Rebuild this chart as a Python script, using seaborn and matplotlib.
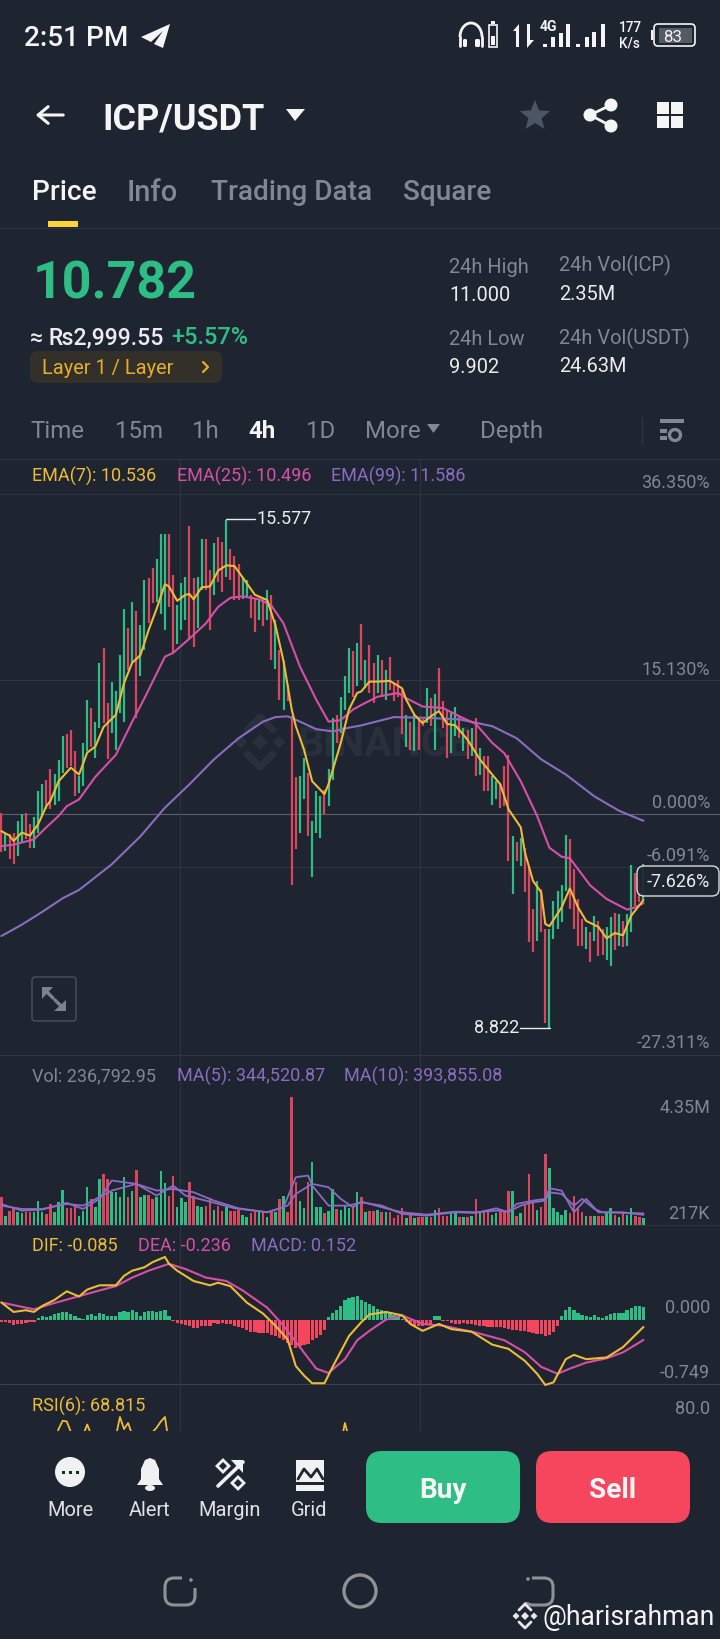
import numpy as np
import pandas as pd
import matplotlib
matplotlib.use("Agg")
import matplotlib.pyplot as plt
import seaborn as sns
from matplotlib.patches import FancyBboxPatch, Circle, Polygon, Rectangle, Arc, Ellipse

BG = "#1E2430"
GRID = "#2E3541"
GREEN = "#2EBD85"
RED = "#F6465D"
CANDLE_RED = "#D9475F"
YELLOW = "#EDBB3A"
MAGENTA = "#D650A8"
PURPLE = "#8A6CC0"
GREY = "#7F8894"
WHITE = "#EAECEF"

# candles, one letter per 4h bar (G up, R down)
directions = list("RGRRGGRRGG" "GRRGGGRRRG" "GGRGGRRGGG" "GRGRGGRRGG" "GRRGGGRRGG"
                  "RRGRRGRRRG" "GRRGRGRGRG" "RRRGGRGGGR" "GGRGGGRGRG" "RRGRGRRRRG"
                  "RGRRGRGRRR" "GGRGRGRGRR" "GGRRRGRGRR" "RGRRGGGGGR" "RRRGRGRRGG"
                  "RGRGGRRG")
highs = [11.69, 11.43, 11.41, 11.43, 11.58, 11.68, 11.69, 11.54, 11.63, 11.98,
         12.07, 12.13, 12.27, 12.20, 12.39, 12.71, 12.73, 12.79, 12.51, 12.18,
         12.62, 13.19, 13.08, 12.90, 13.68, 13.88, 13.15, 13.43, 13.30, 13.78,
         14.39, 14.14, 14.49, 14.37, 14.18, 14.77, 14.80, 14.93, 15.06, 15.39,
         15.39, 15.38, 14.84, 14.44, 14.73, 14.82, 15.49, 14.80, 14.82, 15.32,
         15.32, 14.91, 15.26, 15.34, 15.28, 15.577, 15.19, 15.10, 14.99, 14.82,
         14.77, 14.58, 14.53, 14.51, 14.53, 14.64, 14.58, 14.25, 13.85, 13.70,
         13.39, 12.97, 12.17, 12.18, 12.42, 12.22, 11.58, 11.98, 11.91, 12.00,
         12.27, 12.95, 12.99, 13.23, 13.50, 13.87, 13.83, 13.94, 14.19, 13.72,
         13.92, 13.67, 13.78, 13.72, 13.59, 13.76, 13.43, 13.45, 13.32, 12.99,
         12.89, 12.99, 12.95, 12.93, 13.34, 13.21, 13.26, 13.61, 13.17, 13.06,
         13.01, 13.09, 12.97, 12.82, 12.79, 12.82, 12.95, 12.55, 12.44, 12.44,
         12.18, 12.11, 12.07, 12.31, 12.46, 11.39, 11.30, 11.36, 11.23, 10.99,
         10.42, 10.79, 10.68, 10.15, 10.15, 10.53, 10.66, 10.73, 11.40, 11.34,
         10.95, 10.55, 10.29, 10.18, 10.11, 10.33, 10.26, 10.15, 10.18, 10.31,
         10.37, 10.35, 10.26, 10.35, 11.00, 10.90, 10.81, 11.01]
lows = [11.17, 11.19, 11.08, 11.01, 11.12, 11.30, 11.34, 11.23, 11.23, 11.43,
        11.65, 11.74, 11.74, 11.80, 11.85, 12.22, 12.29, 12.31, 11.92, 11.95,
        12.05, 12.51, 12.57, 12.42, 12.82, 12.88, 12.40, 12.75, 12.53, 13.01,
        12.90, 13.59, 13.67, 12.95, 13.50, 13.85, 14.20, 14.47, 14.49, 14.33,
        14.11, 14.42, 13.81, 13.93, 14.11, 14.25, 13.98, 13.89, 14.14, 14.64,
        14.64, 14.11, 14.58, 14.75, 14.62, 14.82, 14.77, 14.51, 14.51, 14.53,
        14.55, 14.27, 14.09, 14.25, 14.16, 14.25, 13.72, 13.60, 13.19, 13.06,
        13.17, 10.73, 11.21, 11.43, 11.87, 11.39, 10.84, 11.43, 11.36, 11.68,
        11.78, 12.13, 12.62, 12.75, 13.06, 13.28, 13.23, 13.37, 13.45, 13.34,
        13.28, 13.15, 13.28, 13.23, 13.19, 13.32, 13.17, 13.23, 12.73, 12.57,
        12.53, 12.51, 12.53, 12.84, 12.88, 12.84, 12.53, 13.06, 12.82, 12.42,
        12.49, 12.71, 12.68, 12.51, 12.40, 12.44, 12.18, 12.19, 11.98, 11.98,
        11.80, 11.87, 11.76, 11.78, 11.06, 10.61, 11.06, 10.99, 10.64, 9.98,
        9.85, 10.00, 10.11, 8.91, 8.822, 10.02, 10.15, 10.24, 10.66, 10.42,
        10.15, 9.93, 9.93, 9.89, 9.72, 10.00, 9.79, 9.81, 9.74, 9.66,
        9.87, 9.93, 9.91, 9.93, 10.11, 10.46, 10.51, 10.53]

ema7_x = [0, 2, 3, 5, 7, 9, 11, 12, 14, 17, 19, 21, 23, 25, 28, 30, 32, 34, 36, 38, 40, 41, 43, 45, 46, 47,
          49, 51, 53, 55, 57, 59, 62, 65, 67, 69, 71, 72, 74, 76, 79, 80, 83, 85, 87, 88, 90, 92, 95, 98, 99,
          101, 103, 105, 107, 109, 111, 114, 117, 120, 122, 124, 127, 128, 130, 132, 133, 134, 137, 139, 141,
          143, 146, 148, 150, 152, 154, 157]
ema7 = [11.45, 11.39, 11.32, 11.43, 11.39, 11.54, 11.78, 11.85, 12.11, 12.29, 12.20, 12.49, 12.57, 12.83, 12.99,
        13.41, 13.68, 13.78, 14.11, 14.40, 14.72, 14.69, 14.50, 14.58, 14.59, 14.52, 14.68, 14.69, 14.90, 14.97,
        14.96, 14.81, 14.58, 14.51, 14.18, 13.70, 13.06, 12.84, 12.53, 12.11, 11.94, 12.07, 12.62, 13.06, 13.28,
        13.30, 13.43, 13.43, 13.44, 13.34, 13.19, 12.99, 12.88, 12.97, 13.04, 12.87, 12.85, 12.66, 12.40, 12.20,
        12.07, 11.74, 11.50, 11.17, 10.79, 10.64, 10.22, 10.19, 10.44, 10.69, 10.44, 10.26, 10.18, 10.03, 10.10,
        10.07, 10.33, 10.536]
ema25_x = [0, 3, 8, 11, 14, 16, 19, 23, 28, 32, 35, 40, 42, 46, 50, 53, 56, 59, 63, 66, 69, 73, 77, 80, 83, 86, 88,
           92, 97, 99, 103, 108, 112, 116, 120, 123, 127, 131, 134, 137, 139, 144, 148, 153, 155, 157]
ema25 = [11.25, 11.27, 11.34, 11.50, 11.65, 11.78, 11.87, 12.17, 12.46, 12.90, 13.21, 13.76, 13.81, 14.00, 14.20,
         14.42, 14.54, 14.56, 14.52, 14.44, 14.20, 13.63, 13.19, 12.90, 12.92, 13.06, 13.12, 13.23, 13.28, 13.21,
         13.10, 13.08, 12.97, 12.87, 12.62, 12.48, 12.11, 11.65, 11.23, 11.11, 11.09, 10.73, 10.55, 10.41, 10.44,
         10.496]
ema99_x = [0, 5, 10, 15, 19, 27, 34, 40, 46, 52, 58, 64, 67, 70, 73, 77, 81, 85, 88, 96, 104, 112, 120, 126, 132,
           138, 145, 151, 157]
ema99 = [10.06, 10.21, 10.38, 10.56, 10.67, 11.01, 11.38, 11.76, 12.07, 12.40, 12.68, 12.90, 12.96, 12.97, 12.90,
         12.80, 12.77, 12.82, 12.85, 12.96, 12.95, 12.93, 12.84, 12.68, 12.40, 12.20, 11.91, 11.72, 11.586]

# volume in thousands
volume = [943, 318, 488, 545, 432, 409, 432, 432, 432, 829,
          432, 375, 716, 432, 795, 1204, 568, 568, 682, 318,
          466, 1306, 886, 602, 1568, 1738, 1568, 1113, 1113, 943,
          1624, 943, 1170, 1886, 943, 1034, 1034, 886, 943, 1852,
          1420, 977, 1681, 602, 920, 772, 1477, 977, 659, 625,
          659, 920, 523, 659, 488, 602, 488, 466, 523, 341,
          284, 398, 454, 432, 454, 261, 432, 432, 886, 1000,
          454, 4351, 1477, 829, 568, 1454, 2136, 602, 602, 409,
          466, 1227, 545, 523, 659, 579, 602, 1136, 943, 454,
          477, 477, 511, 432, 432, 454, 227, 341, 591, 227,
          341, 227, 284, 261, 261, 284, 511, 568, 318, 318,
          398, 398, 284, 261, 284, 318, 886, 398, 432, 432,
          341, 398, 432, 454, 1159, 1159, 318, 398, 704, 1738,
          795, 511, 625, 2408, 1931, 568, 432, 341, 511, 398,
          1000, 568, 454, 318, 318, 318, 318, 318, 432, 591,
          341, 284, 454, 341, 568, 318, 284, 237]
ma5_x = [0, 5, 10, 16, 20, 24, 27, 33, 38, 42, 45, 50, 57, 65, 69, 72, 75, 76, 80, 85, 88, 93, 98, 104, 111, 116,
         121, 124, 126, 130, 133, 134, 137, 140, 143, 146, 152, 157]
ma5 = [710, 488, 523, 750, 545, 886, 1511, 1397, 1000, 1340, 1000, 829, 568, 432, 602, 1624, 1681, 1340, 659, 659,
       772, 659, 375, 318, 432, 409, 568, 432, 716, 829, 886, 1250, 1170, 432, 886, 432, 432, 345]
ma10_x = [0, 5, 10, 16, 20, 27, 33, 38, 42, 47, 52, 58, 65, 70, 72, 76, 80, 83, 86, 88, 94, 98, 104, 111, 116, 121,
          124, 127, 130, 133, 134, 137, 140, 142, 145, 147, 157]
ma10 = [659, 545, 545, 716, 659, 1170, 1397, 1170, 1227, 1113, 829, 568, 432, 659, 1057, 1397, 1284, 886, 602, 795,
        568, 432, 352, 454, 432, 489, 454, 659, 772, 829, 1113, 1057, 659, 886, 545, 432, 394]

macd_hist = [-.031, -.031, -.039, -.058, -.054, -.047, -.039, -.031, -.031, .023,
             .039, .031, .039, .062, .078, .085, .093, .07, .039, .023,
             .012, .054, .07, .039, .078, .07, .047, .039, .047, .085,
             .101, .085, .116, .093, .047, .093, .101, .101, .085, .101,
             .109, .039, -.016, -.039, -.047, -.062, -.07, -.101, -.093, -.07,
             -.07, -.07, -.039, -.047, -.039, -.047, -.054, -.07, -.085, -.101,
             -.116, -.14, -.147, -.155, -.155, -.155, -.175, -.186, -.213, -.24,
             -.272, -.291, -.33, -.303, -.291, -.279, -.24, -.213, -.175, -.124,
             .031, .078, .109, .155, .225, .252, .264, .272, .225, .202,
             .186, .155, .124, .109, .093, .078, .054, .031, .012, -.023,
             -.054, -.078, -.078, -.07, -.062, -.054, .039, .039, -.012, -.019,
             -.039, -.054, -.047, -.039, -.047, -.054, -.062, -.07, -.078, -.085,
             -.085, -.085, -.085, -.093, -.109, -.116, -.124, -.132, -.132, -.147,
             -.155, -.171, -.163, -.194, -.178, -.14, -.07, .039, .116, .147,
             .116, .078, .054, .039, .031, .054, .031, .016, .039, .07,
             .078, .078, .078, .109, .14, .155, .163, .152]
dif_x = [0, 3, 6, 8, 10, 13, 16, 19, 21, 24, 28, 30, 32, 35, 37, 40, 41, 43, 47, 51, 53, 56, 60, 64, 67, 70, 72, 74,
         76, 79, 81, 85, 88, 90, 94, 98, 100, 103, 107, 110, 115, 120, 124, 128, 131, 133, 135, 138, 140, 143, 148,
         152, 157]
dif = [.20, .09, .11, .09, .16, .23, .33, .27, .35, .40, .40, .51, .57, .61, .67, .73, .65, .57, .45, .40, .43, .39,
       .20, .07, -.07, -.23, -.54, -.65, -.74, -.74, -.55, -.19, -.03, .06, .09, .05, -.05, -.13, -.05, -.11, -.14,
       -.29, -.34, -.48, -.63, -.76, -.73, -.46, -.41, -.46, -.44, -.32, -.085]
dea_x = [0, 4, 8, 12, 18, 24, 28, 32, 36, 41, 45, 50, 55, 59, 65, 69, 73, 77, 80, 84, 87, 90, 94, 98, 103, 108, 116,
         123, 128, 132, 136, 139, 143, 148, 152, 157]
dea = [.20, .16, .12, .18, .26, .34, .39, .49, .57, .65, .59, .49, .45, .34, .14, -.07, -.32, -.57, -.62, -.46, -.24,
       -.13, 0.0, .05, -.05, -.07, -.15, -.24, -.38, -.55, -.63, -.57, -.50, -.45, -.38, -.236]
rsi_x = [0, 13, 14, 15, 16, 17, 19, 20, 21, 22, 27, 28, 29, 30, 31, 32, 36, 37, 38, 39, 40, 41, 50, 70, 76, 83, 84,
         85, 100, 133, 145, 157]
rsi = [52, 62, 72, 77.5, 77, 70, 63, 68, 75, 68, 60, 67, 80, 72, 76, 68, 65, 70, 73, 77, 80, 62, 55, 22, 25, 62, 76,
       66, 45, 12, 40, 68.815]

bar_idx = np.arange(len(highs))
vol_df = pd.DataFrame({"i": bar_idx, "vol": volume, "dir": directions})
hist_df = pd.DataFrame({"i": bar_idx, "hist": macd_hist})
hist_df["dir"] = np.where(hist_df["hist"] >= 0, "G", "R")

sns.set_theme(style="dark", rc={"figure.facecolor": BG, "axes.facecolor": BG, "savefig.facecolor": BG})
plt.rcParams["font.family"] = ["Roboto", "DejaVu Sans"]

fig = plt.figure(figsize=(7.2, 16.4), dpi=100)
W, H = 720.0, 1640.0


def panel(top, bottom, z):
    a = fig.add_axes([0, 1 - bottom / H, 1, (bottom - top) / H], zorder=z)
    a.patch.set_alpha(0)
    return a


def finish(a):
    # bar i sits at 1.33 + 4.09 * i pixels
    a.set_xlim(-1.33 / 4.09, (W - 1.33) / 4.09)
    a.set_axis_off()


bg = panel(0, H, 0)
bg.set_xlim(0, W)
bg.set_ylim(H, 0)
bg.set_axis_off()
ui = panel(0, H, 10)
ui.set_xlim(0, W)
ui.set_ylim(H, 0)
ui.set_axis_off()

for y, c in [(228.5, GRID), (460, GRID), (495, GRID), (681, GRID), (815, "#5A616C"), (868, GRID), (1056, GRID),
             (1226, GRID), (1385, "#3A414C")]:
    bg.plot([0, W], [y, y], color=c, lw=0.8)
for x in [180, 420]:
    bg.plot([x, x], [460, 1432], color=GRID, lw=0.8)

# faint logo behind the price chart
MARK = "#2A303B"
bg.text(297, 745, "BINANCE", fontsize=29.5, fontweight="bold", color=MARK, va="center")
for cx, cy, r in [(260, 743, 8), (241, 743, 6.5), (279, 743, 6.5)]:
    bg.add_patch(Polygon([(cx, cy - r), (cx + r, cy), (cx, cy + r), (cx - r, cy)], closed=True, fc=MARK, ec="none"))
bg.plot([247, 260, 273], [731, 718, 731], color=MARK, lw=5)
bg.plot([247, 260, 273], [755, 768, 755], color=MARK, lw=5)

# price
ax = panel(495, 1056, 2)
cols = [GREEN if d == "G" else CANDLE_RED for d in directions]
ax.vlines(bar_idx, lows, highs, colors=cols, lw=1.6)
sns.lineplot(x=ema99_x, y=ema99, ax=ax, color=PURPLE, lw=1.5, estimator=None)
sns.lineplot(x=ema25_x, y=ema25, ax=ax, color=MAGENTA, lw=1.5, estimator=None)
sns.lineplot(x=ema7_x, y=ema7, ax=ax, color=YELLOW, lw=1.5, estimator=None)
ax.set_ylim(8.484, 15.915)
finish(ax)

# volume
ax_vol = panel(1098, 1226, 2)
sns.barplot(data=vol_df, x="i", y="vol", hue="dir", palette={"G": GREEN, "R": CANDLE_RED}, native_scale=True,
            dodge=False, legend=False, errorbar=None, width=0.62, saturation=1, linewidth=0, ax=ax_vol)
sns.lineplot(x=ma10_x, y=ma10, ax=ax_vol, color=PURPLE, lw=1.3, estimator=None)
sns.lineplot(x=ma5_x, y=ma5, ax=ax_vol, color=PURPLE, lw=1.3, estimator=None)
ax_vol.set_ylim(0, 4350)
finish(ax_vol)

# macd
ax_macd = panel(1240, 1385, 2)
sns.barplot(data=hist_df, x="i", y="hist", hue="dir", palette={"G": GREEN, "R": RED}, native_scale=True,
            dodge=False, legend=False, errorbar=None, width=0.8, saturation=1, linewidth=0, ax=ax_macd)
for line_x, line_y, c in [(dea_x, dea, MAGENTA), (dif_x, dif, YELLOW)]:
    sns.lineplot(x=line_x, y=line_y, ax=ax_macd, color=c, lw=1.5, estimator=None)
    ax_macd.lines[-1].set_clip_on(False)
ax_macd.set_ylim(-0.749, 0.939)
finish(ax_macd)

# rsi, cut off by the bottom bar
ax_rsi = panel(1386, 1432, 2)
sns.lineplot(x=rsi_x, y=rsi, ax=ax_rsi, color=YELLOW, lw=1.3, estimator=None)
ax_rsi.set_ylim(70.67, 101.3)
finish(ax_rsi)


def txt(x, y, s, px, color=WHITE, weight="normal", ha="left", **kw):
    # centre on the digits and capitals, not on the descenders
    ui.text(x, y + 0.07 * px, s, fontsize=px * 0.72, color=color, fontweight=weight, ha=ha, va="center", **kw)


def rbox(x0, y0, x1, y1, r, **kw):
    ui.add_patch(FancyBboxPatch((x0 + r, y0 + r), x1 - x0 - 2 * r, y1 - y0 - 2 * r,
                                boxstyle="round,pad=0,rounding_size=%f" % r, mutation_aspect=1, **kw))
    ui.patches[-1].set_boxstyle("round", pad=r, rounding_size=r)


# status bar
ICON = "#F5F5F5"
txt(24, 37, "2:51 PM", 28, ICON, "medium")
ui.add_patch(Polygon([(170, 25), (141, 38), (151, 43), (163, 32), (154, 45), (163, 49)], closed=True, fc=ICON, ec="none"))
ui.add_patch(Arc((471, 38), 22, 28, theta1=180, theta2=360, color=ICON, lw=2))
ui.plot([460, 460], [38, 47], color=ICON, lw=2)
ui.plot([482, 482], [38, 47], color=ICON, lw=2)
rbox(463, 40, 467, 48, 1.5, fc=ICON, ec="none")
rbox(475, 40, 480, 48, 1.5, fc=ICON, ec="none")
ui.add_patch(Rectangle((489, 26), 8, 22, fc=BG, ec=ICON, lw=1.2))
ui.add_patch(Rectangle((491, 37), 4, 9, fc=ICON, ec="none"))
ui.add_patch(Rectangle((491, 22), 4, 3, fc=ICON, ec="none"))
ui.add_patch(Polygon([(519, 25), (519, 48), (516, 48), (516, 32), (513, 32)], closed=True, fc=ICON, ec="none"))
ui.add_patch(Polygon([(527, 25), (530, 25), (530, 41), (534, 41), (527, 49)], closed=True, fc=ICON, ec="none"))
txt(548, 26, "4G", 14, ICON, "bold", ha="center")
for x, h in [(545, 3.5), (553, 10), (561, 14), (568, 23), (578, 3.5), (587, 10), (594, 15), (603, 23)]:
    ui.add_patch(Rectangle((x - 1.7, 48 - h), 3.4, h, fc=ICON, ec="none"))
txt(630, 27, "177", 13.5, ICON, "medium", ha="center")
txt(629, 43, "K/s", 13.5, ICON, "medium", ha="center")
rbox(654, 25, 695, 47, 4, fc=BG, ec=ICON, lw=1.2)
ui.add_patch(Rectangle((659, 29), 33, 15, fc="#555B64", ec="none"))
txt(673, 36, "83", 17, ICON, ha="center")
ui.add_patch(Rectangle((651, 31), 2, 10, fc=ICON, ec="none"))

# title row
ui.annotate("", xy=(33, 116), xytext=(66, 116),
            arrowprops=dict(arrowstyle="->,head_length=0.6,head_width=0.5", color=ICON, lw=2.2))
txt(102, 117, "ICP/USDT", 36, ICON, "bold")
ui.add_patch(Polygon([(286, 110), (305, 110), (295, 122)], closed=True, fc=ICON, ec="none"))
star = [(535 + r * np.sin(a * np.pi / 5), 117 - r * np.cos(a * np.pi / 5))
        for a, r in zip(range(10), [16, 7] * 5)]
ui.add_patch(Polygon(star, closed=True, fc="#4C5566", ec="none"))
ui.plot([611, 590, 611], [106, 116, 127], color=ICON, lw=2)
for cx, cy in [(611, 106), (590, 116), (611, 127)]:
    ui.add_patch(Circle((cx, cy), 6.5, fc=ICON, ec="none"))
for x0, y0 in [(657, 103), (671, 103), (657, 117), (671, 117)]:
    ui.add_patch(Rectangle((x0, y0), 12, 12, fc=ICON, ec="none"))

# tabs
txt(32, 191, "Price", 28, ICON, "medium")
txt(127, 191, "Info", 29, GREY, "medium")
txt(211, 191, "Trading Data", 28, GREY, "medium")
txt(403, 191, "Square", 28, GREY, "medium")
ui.add_patch(Rectangle((48, 222), 30, 6, fc="#FCD535", ec="none"))

# ticker block
txt(33, 281, "10.782", 52, GREEN, "bold")
txt(30, 336, "≈ ₨2,999.55", 23, WHITE, "medium")
txt(171, 336, "+5.57%", 23.5, GREEN, "medium")
rbox(30, 352, 222, 384, 8, fc="#332F29", ec="none")
txt(42, 367, "Layer 1 / Layer", 20, "#E5AE2B")
ui.plot([203, 208, 203], [363, 368, 373], color="#E5AE2B", lw=1.6)
txt(449, 266, "24h High", 20, GREY)
txt(449, 294, "11.000", 20, WHITE)
txt(559, 264, "24h Vol(ICP)", 20, GREY)
txt(559, 293, "2.35M", 20, WHITE)
txt(449, 338, "24h Low", 20, GREY)
txt(449, 366, "9.902", 20, WHITE)
txt(559, 337, "24h Vol(USDT)", 20, GREY)
txt(559, 365, "24.63M", 20, WHITE)

# interval row
for x, s in [(30, "Time"), (115, "15m"), (192, "1h"), (306, "1D"), (365, "More"), (480, "Depth")]:
    txt(x, 430, s, 24, GREY)
txt(248, 430, "4h", 24, ICON, "bold")
ui.add_patch(Polygon([(427, 425), (440, 425), (433.5, 434)], closed=True, fc=GREY, ec="none"))
ui.plot([642, 642], [418, 445], color=GRID, lw=1)
ui.add_patch(Rectangle((660, 420), 24, 4, fc=GREY, ec="none"))
ui.add_patch(Rectangle((660, 430), 7, 4, fc=GREY, ec="none"))
ui.add_patch(Rectangle((660, 437), 7, 4, fc=GREY, ec="none"))
ui.add_patch(Circle((675, 436), 5.5, fc=BG, ec=GREY, lw=2.4))

# indicator headers
for x, y, s, c in [(32, 475, "EMA(7): 10.536", YELLOW), (177, 475, "EMA(25): 10.496", MAGENTA),
                   (331, 475, "EMA(99): 11.586", PURPLE), (32, 1075, "Vol: 236,792.95", GREY),
                   (177, 1075, "MA(5): 344,520.87", PURPLE), (344, 1075, "MA(10): 393,855.08", PURPLE),
                   (32, 1245, "DIF: -0.085", YELLOW), (138, 1245, "DEA: -0.236", MAGENTA),
                   (251, 1245, "MACD: 0.152", PURPLE), (32, 1405, "RSI(6): 68.815", YELLOW)]:
    txt(x, y, s, 18, c)
for y, s in [(482, "36.350%"), (669, "15.130%"), (802, "0.000%"), (855, "-6.091%"), (1042, "-27.311%"),
             (1107, "4.35M"), (1213, "217K"), (1307, "0.000"), (1372, "-0.749"), (1408, "80.0")]:
    txt(710, y, s, 18, GREY, ha="right")

# price callouts
rbox(637, 867, 719, 897, 7, fc=BG, ec=WHITE, lw=1, alpha=0.92)
txt(678, 881, "-7.626%", 18, WHITE, ha="center")
ui.plot([226, 255], [520, 520], color=WHITE, lw=1)
txt(256, 518, "15.577", 18, WHITE)
ui.plot([520, 550], [1029, 1029], color=WHITE, lw=1)
txt(519, 1027, "8.822", 18, WHITE, ha="right")

# expand button
ARROW = "#7B828D"
rbox(32, 978, 76, 1022, 3, fc=BG, ec="#4A515C", lw=1)
ui.add_patch(Polygon([(42, 988), (53, 988), (42, 1000)], closed=True, fc=ARROW, ec="none"))
ui.add_patch(Polygon([(66, 1012), (66, 1001), (54, 1012)], closed=True, fc=ARROW, ec="none"))
ui.plot([46, 53], [992, 999], color=ARROW, lw=2.4)
ui.plot([55, 62], [1001, 1008], color=ARROW, lw=2.4)

# bottom bar
ui.add_patch(Circle((70, 1473), 15, fc="#F0F1F2", ec="none"))
for x in [63, 70, 77]:
    ui.add_patch(Rectangle((x - 1.5, 1472), 3, 3, fc=BG, ec="none"))
ui.add_patch(Polygon([(137, 1486), (141, 1480), (141, 1470), (145, 1461), (150, 1459), (155, 1461), (159, 1470),
                      (159, 1480), (163, 1486)], closed=True, fc="#F0F1F2", ec="none"))
ui.add_patch(Ellipse((150, 1489), 10, 6, fc="#F0F1F2", ec="none"))
ui.plot([218, 243], [1487, 1463], color="#F0F1F2", lw=2.6)
ui.add_patch(Polygon([(231, 1461), (243, 1461), (243, 1474)], closed=True, fc="#F0F1F2", ec="none"))
ui.add_patch(Polygon([(223, 1461), (229, 1467), (223, 1473), (217, 1467)], closed=True, fc=BG, ec="#F0F1F2", lw=2))
ui.add_patch(Polygon([(238, 1478), (244, 1484), (238, 1490), (232, 1484)], closed=True, fc=BG, ec="#F0F1F2", lw=2))
ui.add_patch(Rectangle((296, 1461), 28, 22, fc="#F0F1F2", ec="none"))
ui.plot([298, 304, 311, 317, 323], [1480, 1470, 1478, 1470, 1480], color=BG, lw=2)
ui.add_patch(Rectangle((296, 1486), 28, 6, fc="#F0F1F2", ec="none"))
for x, s in [(70, "More"), (150, "Alert"), (230, "Margin"), (309, "Grid")]:
    txt(x, 1509, s, 20, "#E0E2E5", ha="center")
rbox(366, 1452, 520, 1524, 16, fc=GREEN, ec="none")
rbox(536, 1452, 690, 1524, 16, fc=RED, ec="none")
txt(443, 1489, "Buy", 28, ICON, "bold", ha="center")
txt(613, 1489, "Sell", 28, ICON, "bold", ha="center")

# nav keys
NAV = "#8E9298"
rbox(165, 1579, 195, 1606, 9, fc="none", ec=NAV, lw=2.2)
ui.add_patch(Rectangle((182, 1575), 16, 14, fc=BG, ec="none"))
ui.add_patch(Circle((191, 1581), 1.8, fc=NAV, ec="none"))
ui.add_patch(Ellipse((360, 1592), 32, 32, fc="none", ec=NAV, lw=2.4))
rbox(524, 1579, 553, 1606, 9, fc="none", ec=NAV, lw=2.2)
ui.add_patch(Rectangle((520, 1575), 12, 28, fc=BG, ec="none"))
ui.add_patch(Circle((528, 1580), 1.8, fc=NAV, ec="none"))

# watermark
for cx, cy, r in [(525, 1617, 4), (516, 1617, 3.5), (534, 1617, 3.5)]:
    ui.add_patch(Polygon([(cx, cy - r), (cx + r, cy), (cx, cy + r), (cx - r, cy)], closed=True, fc="#E6E8EA", ec="none"))
ui.plot([519, 525, 531], [1611, 1605, 1611], color="#E6E8EA", lw=2)
ui.plot([519, 525, 531], [1623, 1629, 1623], color="#E6E8EA", lw=2)
txt(543, 1616, "@harisrahman", 26.5, "#F2F3F4")

fig.savefig("out.png", dpi=100, facecolor=BG)
